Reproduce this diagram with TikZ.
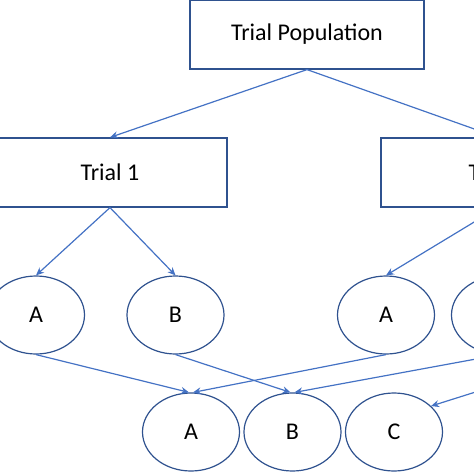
\documentclass[tikz,border=0pt]{standalone}
\usepackage{fontspec}
\setmainfont{Carlito}
\usetikzlibrary{shapes.geometric, arrows.meta}

\definecolor{edge}{HTML}{2F528F}
\definecolor{link}{HTML}{4472C4}

\begin{document}
\begin{tikzpicture}[x=1pt, y=-1pt,
    box/.style={draw=edge, line width=1.2pt, minimum width=234pt, minimum height=69pt, font=\fontsize{24}{28}\selectfont},
    arm/.style={ellipse, draw=edge, line width=1.2pt, minimum width=97pt, minimum height=78pt, inner sep=0pt, font=\fontsize{24}{28}\selectfont},
    arr/.style={draw=link, line width=1.2pt, -{Stealth[length=8pt, width=7pt]}}]
    \useasboundingbox (0,0) rectangle (474,474);
    \clip (0,0) rectangle (474,474);

    \node[box] (P) at (307,34.5) {Trial Population};
    \node[box] (T1) at (110,172.5) {Trial 1};
    \node[box] (T2) at (498,172.5) {Trial 2};

    \node[arm] (a1) at (36,315) {A};
    \node[arm] (b1) at (175.5,315) {B};
    \node[arm] (a2) at (386,315) {A};
    \node[arm] (b2) at (500,315) {B};
    \coordinate (c2) at (596,354);

    \node[arm] (a) at (191,432) {A};
    \node[arm] (b) at (292.5,432) {B};
    \node[arm] (c) at (394,432) {C};

    \draw[arr] (P.south) -- (T1.north);
    \draw[arr] (P.south) -- (T2.north);
    \draw[arr] (T1.south) -- (a1.north);
    \draw[arr] (T1.south) -- (b1.north);
    \draw[arr] (T2.south) -- (a2.north);
    \draw[arr] (T2.south) -- (b2.north);

    \draw[arr] (a1.south) -- ([xshift=-2pt]a.north);
    \draw[arr] (a2.south) -- ([xshift=2pt]a.north);
    \draw[arr] (b1.south) -- ([xshift=-2pt]b.north);
    \draw[arr] (b2.south) -- ([xshift=2pt]b.north);
    \draw[arr] (c2) -- (c.35);
\end{tikzpicture}
\end{document}
